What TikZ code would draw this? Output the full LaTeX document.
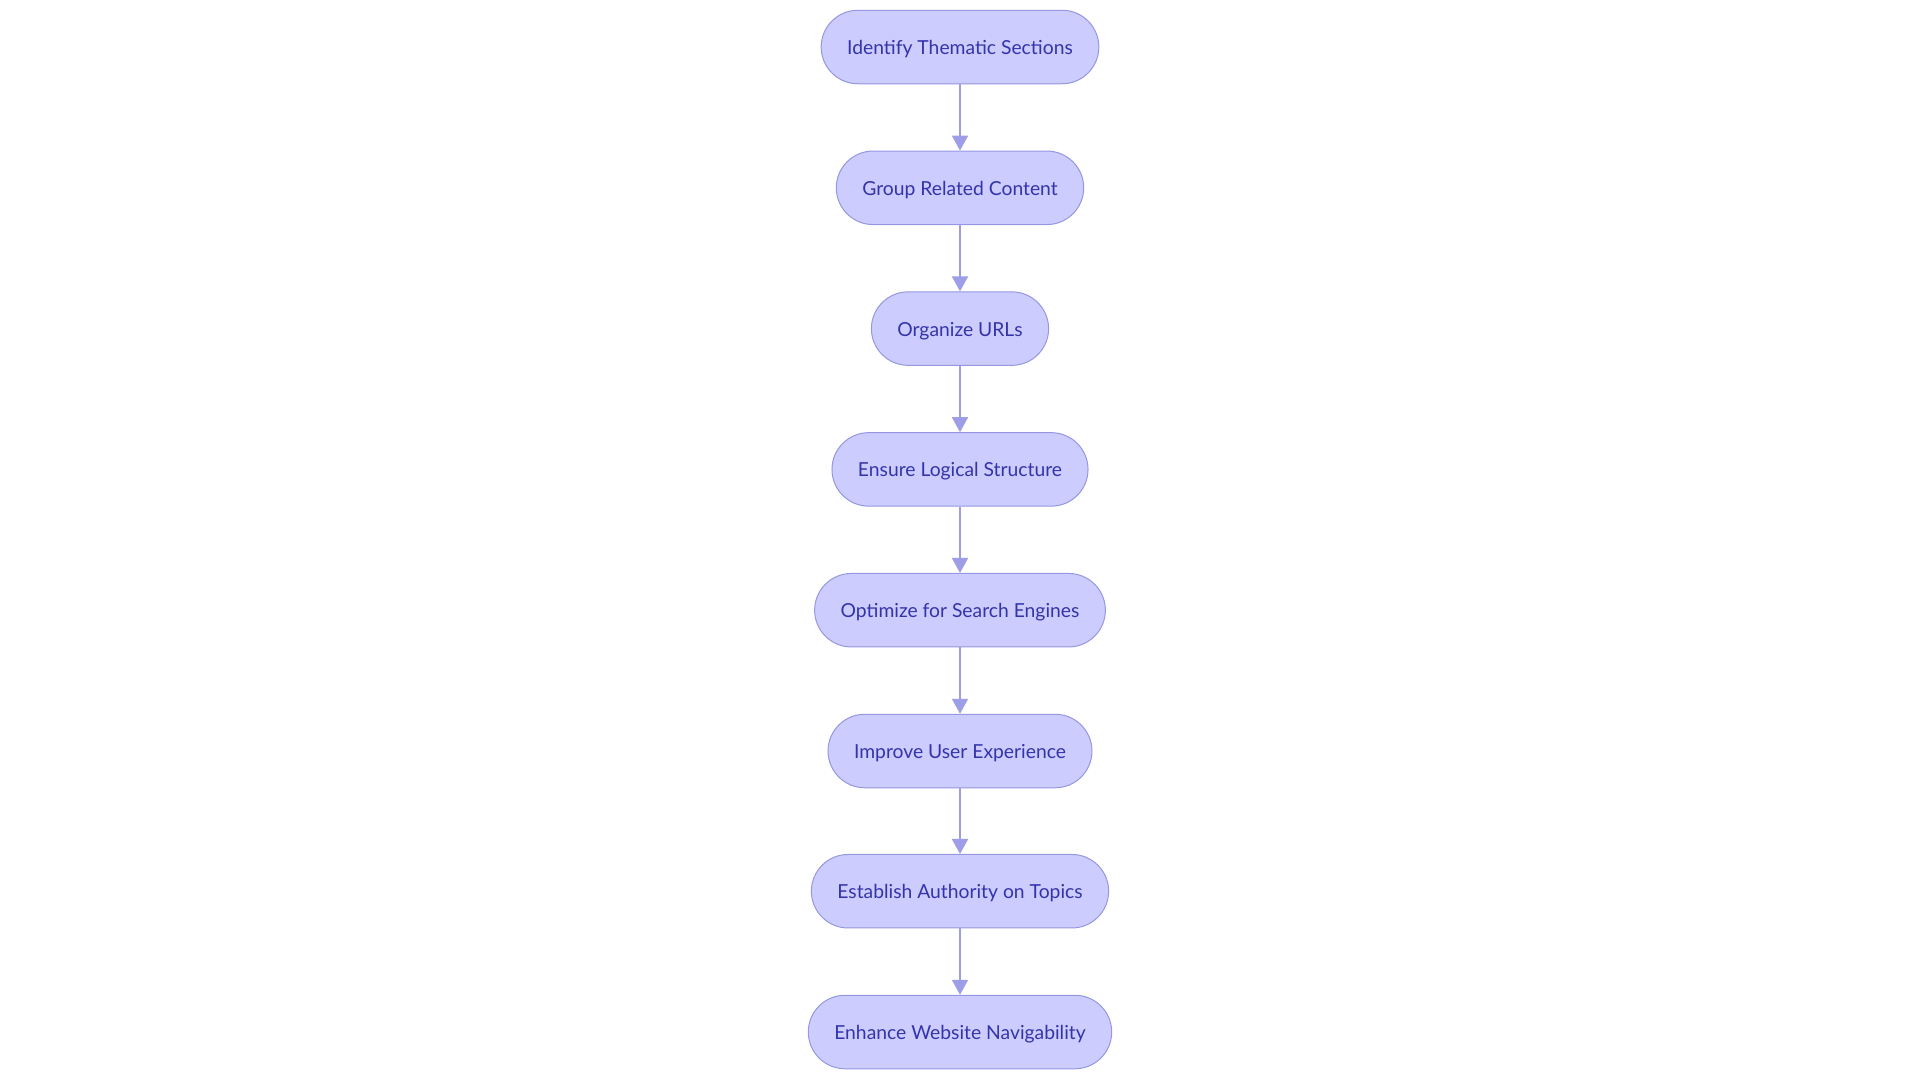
\documentclass[tikz,border=0pt]{standalone}
\usepackage{fontspec}
\setmainfont{Lato}
\usetikzlibrary{arrows.meta}

\definecolor{boxfill}{RGB}{204,204,255}
\definecolor{boxline}{RGB}{150,150,225}
\definecolor{boxtext}{RGB}{52,52,170}
\definecolor{arrowcol}{RGB}{158,158,232}

\begin{document}
\begin{tikzpicture}[x=1pt,y=-1pt,
	stepbox/.style={draw=boxline,fill=boxfill,text=boxtext,line width=1pt,
		rounded corners=36.75pt,minimum height=73.5pt,inner xsep=26pt,
		text height=15pt,text depth=0pt,
		font=\fontsize{19.3}{22}\selectfont},
	flow/.style={draw=arrowcol,line width=2pt,-{Triangle[length=15pt,width=16pt]}}]
	\useasboundingbox (0,0) rectangle (1920,1080);
	\foreach \t/\y [count=\i] in {Identify Thematic Sections/47,Group Related Content/187.8,Organize URLs/328.6,Ensure Logical Structure/469.4,Optimize for Search Engines/610.2,Improve User Experience/751,Establish Authority on Topics/891.2,Enhance Website Navigability/1032}
		\node[stepbox] (s\i) at (960,\y) {\t};
	\foreach \a/\b in {1/2,2/3,3/4,4/5,5/6,6/7,7/8} \draw[flow] (s\a) -- (s\b);
\end{tikzpicture}
\end{document}
